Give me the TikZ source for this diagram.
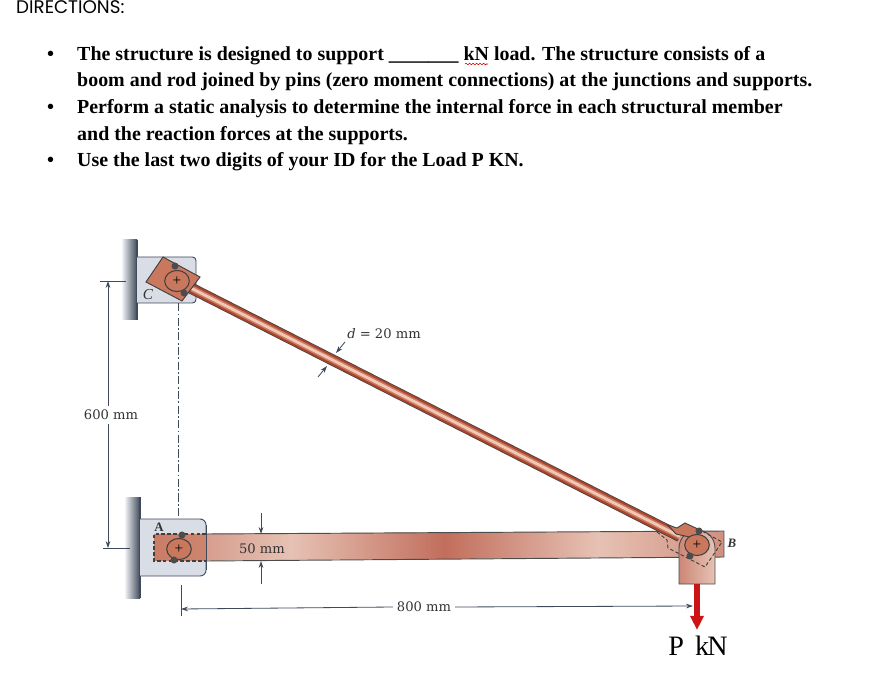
\documentclass[tikz,border=0pt]{standalone}
\usepackage{fontspec}
\setmainfont{Liberation Serif}
\newfontfamily\headfont{Poppins}
\newfontfamily\dimfont{DejaVu Serif}
\usetikzlibrary{shapes.geometric,decorations.pathmorphing,arrows.meta}
\definecolor{steel}{HTML}{3F4A5A}
\definecolor{plate}{HTML}{D9DEE6}
\definecolor{copper}{HTML}{C9785E}
\definecolor{boomlight}{HTML}{E6C2B4}
\definecolor{boomdark}{HTML}{C26E5C}
\definecolor{rodedge}{HTML}{A8432E}
\definecolor{rodmid}{HTML}{CC7A62}
\definecolor{rodcore}{HTML}{F0C8B4}
\definecolor{loadred}{HTML}{CC1414}
\pgfdeclarehorizontalshading{boomshade}{100bp}{
    color(0bp)=(boomdark!70!boomlight); color(25bp)=(boomdark!70!boomlight);
    color(37bp)=(boomlight); color(50.5bp)=(boomdark); color(64bp)=(boomlight);
    color(75bp)=(boomdark!60!boomlight); color(100bp)=(boomdark!60!boomlight)}
\tikzset{
    dimline/.style={draw=steel, line width=0.7pt},
    dimarrow/.style={dimline, -{Stealth[length=6pt,width=4pt]}},
    dimtext/.style={text=black!80, font=\dimfont\fontsize{11.2}{12}\selectfont},
    pinhead/.style={ellipse, draw=black!75, line width=0.9pt, fill=copper, inner sep=0pt,
        minimum width=21pt, minimum height=18pt, font=\fontsize{13}{13}\selectfont},
    cotter/.style={circle, fill=black!70, inner sep=0pt, minimum size=6pt}
}
\begin{document}
\begin{tikzpicture}[x=0.03cm, y=-0.03cm]
            \useasboundingbox (0,0) rectangle (873,685);

            \node[anchor=base west, inner sep=0pt, font=\headfont\fontsize{15.6}{16}\selectfont] (head) at (16,14) {DIRECTIONS:};
            \begin{scope}[
                    every node/.style={anchor=base west, inner sep=0pt, font=\bfseries\fontsize{17}{17}\selectfont}
                ]

                \node (b1) at (47,61) {•};
                \node (b2) at (47,114) {•};
                \node (b3) at (47,167) {•};
                \node (l1) at (77,61) {The structure is designed to support \_\_\_\_\_\_\_ kN load. The structure consists of a};
                \node (l2) at (77,87) {boom and rod joined by pins (zero moment connections) at the junctions and supports.};
                \node (l3) at (77,114) {Perform a static analysis to determine the internal force in each structural member};
                \node (l4) at (77,141) {and the reaction forces at the supports.};
                \node (l5) at (77,167) {Use the last two digits of your ID for the Load P KN.};
            \end{scope}
            \draw[red!80!black, line width=0.5pt, decorate, decoration={snake, amplitude=0.7pt, segment length=3pt}] (465,64) -- (488,64);

            % walls
            \shade[left color=plate!40, right color=steel] (122,240) rectangle (137,320);
            \draw[steel, line width=1pt] (137,240) -- (137,320);
            \shade[left color=plate!40, right color=steel] (125,497) rectangle (140,598);
            \draw[steel, line width=1pt] (140,497) -- (140,598);

            % brackets
            \draw[steel, line width=0.8pt, fill=plate, rounded corners=3pt] (137,257) -- (196,257) -- (196,303) -- (137,303);
            \draw[steel, line width=0.8pt, fill=plate, rounded corners=5pt] (140,519) -- (206,519) -- (206,576) -- (140,576);

            % boom and clevis
            \shade[shading=boomshade] (154,534) -- (724,531) -- (724,557) -- (154,561) -- cycle;
            \fill[copper, opacity=0.65] (154,534) -- (206,534) -- (206,561) -- (154,561) -- cycle;
            \draw[black!70, line width=0.8pt] (206,534) -- (724,531) -- (724,557) -- (206,561);
            \draw[black!75, line width=0.9pt, densely dashed] (206,534) -- (154,534) -- (154,561) -- (206,561);
            \draw[steel, line width=0.8pt] (206,525) -- (206,570);
            \shade[draw=black!70, line width=0.8pt, left color=boomdark!70!boomlight, right color=boomlight] (679,584) -- (679,548) arc (180:360:18) -- (715,584) -- cycle;
            \draw[black!75, line width=0.8pt, densely dashed] (657,532) -- (667,540) -- (668,548) -- (705,567) -- (722,542) -- (700,530);

            % rod
            \coordinate (rodC) at (177,281);
            \coordinate (rodB) at (680,536.5);
            \draw[black!75, line width=9.6pt] (rodC) -- (rodB);
            \draw[rodedge, line width=8.4pt] (rodC) -- (rodB);
            \draw[rodmid, line width=5pt] (rodC) -- (rodB);
            \draw[rodcore, line width=2.4pt] (rodC) -- (rodB);
            \draw[black!75, line width=0.8pt, fill=copper] (163,257) -- (200,277) -- (182,301) -- (146,282) -- cycle;
            \draw[black!75, line width=0.8pt, fill=copper] (668,525) -- (677,528) -- (685,523) -- (700,530) -- (694,538) -- (676,534) -- cycle;

            % pins
            \node[pinhead] (pinC) at (177,281) {+};
            \node[pinhead] (pinA) at (179,549) {+};
            \node[pinhead] (pinB) at (697,545) {+};
            \node[cotter] (c1) at (175,266) {};
            \node[cotter] (c2) at (184,293) {};
            \node[cotter] (a1) at (182,535) {};
            \node[cotter] (a2) at (174,560) {};
            \node[cotter] (b4) at (699,531) {};
            \node[cotter] (b5) at (690,556) {};

            % load
            \coordinate (loadtop) at (697,584);
            \coordinate (loadtip) at (697,630);
            \draw[loadred, line width=4.3pt, -{Triangle[length=12pt,width=11pt]}] (loadtop) -- (loadtip);

            \coordinate (lineC) at (178,303);
            \coordinate (lineA) at (178,517);
            \draw[steel, line width=0.7pt, dash pattern=on 7pt off 2pt on 1.5pt off 2pt] (lineC) -- (lineA);

            % 600 mm
            \node[dimtext] (d600) at (111,415) {600 mm};
            \coordinate (t1) at (100,281);
            \coordinate (t2) at (126,281);
            \coordinate (t3) at (103,548);
            \coordinate (t4) at (130,548);
            \coordinate (u1) at (108,281);
            \coordinate (u2) at (108,548);
            \draw[dimline] (t1) -- (t2);
            \draw[dimline] (t3) -- (t4);
            \draw[dimarrow] (d600.north -| u1) -- (u1);
            \draw[dimarrow] (d600.south -| u2) -- (u2);

            % 50 mm
            \node[dimtext] (d50) at (262,549) {50 mm};
            \coordinate (v1) at (261,513);
            \coordinate (v2) at (261,534);
            \coordinate (v3) at (261,584);
            \coordinate (v4) at (261,561);
            \draw[dimarrow] (v1) -- (v2);
            \draw[dimarrow] (v3) -- (v4);

            % 800 mm
            \node[dimtext] (d800) at (424,607) {800 mm};
            \coordinate (w1) at (181,585);
            \coordinate (w2) at (181,616);
            \coordinate (w3) at (181,609);
            \coordinate (w4) at (693,606);
            \draw[dimline] (w1) -- (w2);
            \draw[dimarrow] (d800.west) -- (w3);
            \draw[dimarrow] (d800.east) -- (w4);

            % d = 20 mm
            \node[dimtext] (d20) at (384,334) {\itshape d\upshape\ = 20 mm};
            \coordinate (x1) at (345,342);
            \coordinate (x2) at (336,353);
            \coordinate (x3) at (318,377);
            \coordinate (x4) at (327,366);
            \draw[dimarrow] (x1) -- (x2);
            \draw[dimarrow] (x3) -- (x4);

            \node[font=\bfseries\fontsize{11}{11}\selectfont, text=black!80] (labA) at (159,527) {A};
            \node[font=\itshape\fontsize{13}{13}\selectfont, text=black!80] (labC) at (148,295) {C};
            \node[font=\bfseries\itshape\fontsize{11}{11}\selectfont, text=black!80] (labB) at (732,543) {B};
            \node[font=\fontsize{24}{24}\selectfont] (load) at (698,646) {P\hspace{0.15em} k\kern-1.5ptN};
        \end{tikzpicture}
\end{document}
